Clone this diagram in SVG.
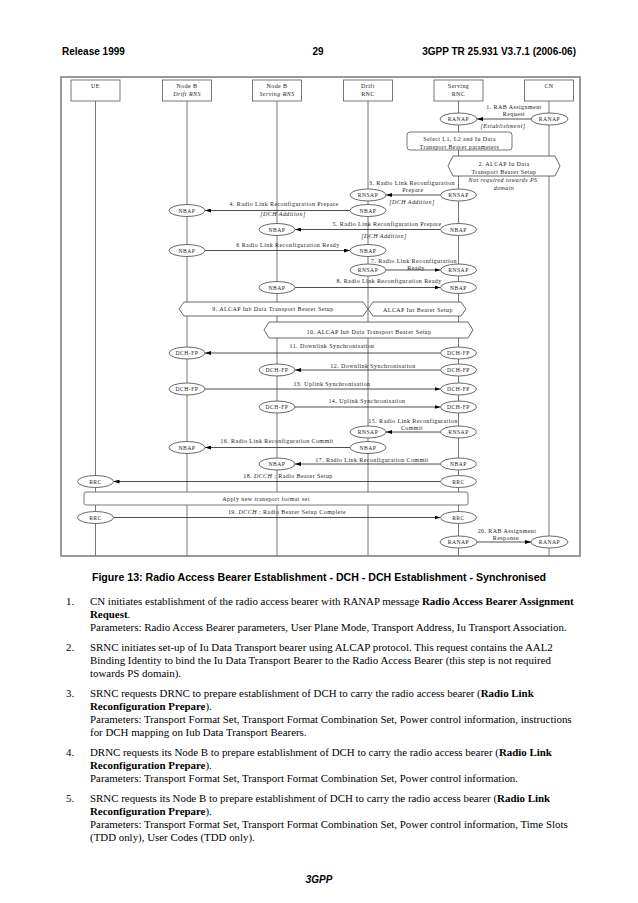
<svg xmlns="http://www.w3.org/2000/svg" width="638" height="903" viewBox="0 0 638 903">
<style>
.hdr{font-family:"Liberation Sans",Arial,sans-serif;font-weight:bold;font-size:10px;fill:#000}
.cap{font-family:"Liberation Sans",Arial,sans-serif;font-weight:bold;font-size:10.6px;fill:#000}
.body{font-family:"Liberation Serif","Times New Roman",serif;font-size:10.9px;fill:#000}
.b{font-weight:bold}
.lbl{font-family:"Liberation Serif","Times New Roman",serif;font-size:6px;letter-spacing:0.42px;fill:#222}
.mid{text-anchor:middle}
.it{font-style:italic}
.life{stroke:#777;stroke-width:1;fill:none}
.box{fill:#fff;stroke:#555;stroke-width:0.8}
.ell{fill:#fff;stroke:#444;stroke-width:0.8}
.el{font-family:"Liberation Serif","Times New Roman",serif;font-size:5.6px;letter-spacing:0.5px;fill:#222;text-anchor:middle}
.msg{stroke:#222;stroke-width:0.8;fill:none;marker-end:url(#ah)}
.hex{fill:#fff;stroke:#444;stroke-width:0.8}
</style>
<defs>
<marker id="ah" viewBox="0 0 6 4" refX="6" refY="2" markerWidth="6" markerHeight="4" markerUnits="userSpaceOnUse" orient="auto"><path d="M0,0 L6,2 L0,4z" fill="#000"/></marker>
</defs>
<rect width="638" height="903" fill="#fff"/>

<g id="header">
<text class="hdr" x="62" y="55">Release 1999</text>
<text class="hdr" x="318" y="55" text-anchor="middle">29</text>
<text class="hdr" x="576" y="55" text-anchor="end">3GPP TR 25.931 V3.7.1 (2006-06)</text>
</g>

<rect id="frame" x="61" y="77" width="519" height="479" fill="none" stroke="#999" stroke-width="2"/>

<g id="lifelines">
<line class="life" x1="95.5" y1="101" x2="95.5" y2="556"/>
<line class="life" x1="187" y1="101" x2="187" y2="556"/>
<line class="life" x1="277" y1="101" x2="277" y2="556"/>
<line class="life" x1="368" y1="101" x2="368" y2="556"/>
<line class="life" x1="458.5" y1="101" x2="458.5" y2="556"/>
<line class="life" x1="549" y1="101" x2="549" y2="556"/>
</g>

<g id="ue"><rect class="box" x="71" y="80" width="49" height="21"/><text class="lbl mid" x="95.5" y="88">UE</text></g>
<g id="nodeb-drift"><rect class="box" x="162.5" y="80" width="49" height="21"/><text class="lbl mid" x="187" y="88">Node B</text><text class="lbl mid it" x="187" y="96">Drift RNS</text></g>
<g id="nodeb-serving"><rect class="box" x="252.5" y="80" width="49" height="21"/><text class="lbl mid" x="277" y="88">Node B</text><text class="lbl mid it" x="277" y="96">Serving RNS</text></g>
<g id="drnc"><rect class="box" x="343.5" y="80" width="49" height="21"/><text class="lbl mid" x="368" y="88">Drift</text><text class="lbl mid" x="368" y="96">RNC</text></g>
<g id="srnc"><rect class="box" x="434" y="80" width="49" height="21"/><text class="lbl mid" x="458.5" y="88">Serving</text><text class="lbl mid" x="458.5" y="96">RNC</text></g>
<g id="cn"><rect class="box" x="524.5" y="80" width="49" height="21"/><text class="lbl mid" x="549" y="88">CN</text></g>

<g id="select-box"><rect class="box" x="407" y="132" width="105" height="18" rx="3"/><text class="lbl mid" x="459.5" y="141">Select L1, L2 and Iu Data</text><text class="lbl mid" x="459.5" y="148.5">Transport Bearer parameters</text></g>

<g id="alcap-iu"><polygon class="hex" points="448,166 453,156 555,156 560,166 555,176 453,176"/><text class="lbl mid" x="504" y="166">2. ALCAP Iu Data</text><text class="lbl mid" x="504" y="174">Transport Bearer Setup</text></g>

<g id="alcap-iub9"><polygon class="hex" points="179,309 184,302 363,302 368,309 363,316 184,316"/><text class="lbl mid" x="273" y="311">9. ALCAP Iub Data Transport Bearer Setup</text></g>
<g id="alcap-iur"><polygon class="hex" points="368,309 373,302 461,302 466,309 461,316 373,316"/><text class="lbl mid" x="418" y="311.5">ALCAP Iur Bearer Setup</text></g>
<g id="alcap-iub10"><polygon class="hex" points="264,330 269,322 468,322 473,330 468,338 269,338"/><text class="lbl mid" x="369" y="334">10. ALCAP Iub Data Transport Bearer Setup</text></g>

<g id="apply-box"><rect class="box" x="84" y="492" width="384" height="13" rx="2"/><text class="lbl mid" x="266" y="500.5">Apply new transport format set</text></g>

<g id="connectors">
<line class="msg" x1="531" y1="119" x2="477" y2="119"/>
<line class="msg" x1="440.5" y1="195" x2="386" y2="195"/>
<line class="msg" x1="350" y1="210.5" x2="205" y2="210.5"/>
<line class="msg" x1="440.5" y1="229.5" x2="295" y2="229.5"/>
<line class="msg" x1="205" y1="250.5" x2="350" y2="250.5"/>
<line class="msg" x1="386" y1="270" x2="440.5" y2="270"/>
<line class="msg" x1="295" y1="287.5" x2="440.5" y2="287.5"/>
<line class="msg" x1="440.5" y1="353" x2="205" y2="353"/>
<line class="msg" x1="440.5" y1="370" x2="295" y2="370"/>
<line class="msg" x1="205" y1="389" x2="440.5" y2="389"/>
<line class="msg" x1="295" y1="407" x2="440.5" y2="407"/>
<line class="msg" x1="440.5" y1="432" x2="386" y2="432"/>
<line class="msg" x1="350" y1="447.5" x2="205" y2="447.5"/>
<line class="msg" x1="440.5" y1="464" x2="295" y2="464"/>
<line class="msg" x1="440.5" y1="481.5" x2="113.5" y2="481.5"/>
<line class="msg" x1="113.5" y1="517.5" x2="440.5" y2="517.5"/>
<line class="msg" x1="477" y1="542" x2="531" y2="542"/>
</g>

<g id="endpoints">
<g id="ranap-s1"><ellipse class="ell" cx="458.5" cy="119" rx="18.5" ry="6"/><text class="el" x="458.5" y="121">RANAP</text></g>
<g id="ranap-cn1"><ellipse class="ell" cx="549.5" cy="119" rx="18.5" ry="6"/><text class="el" x="549.5" y="121">RANAP</text></g>
<g id="rnsap-d3"><ellipse class="ell" cx="368" cy="195" rx="18" ry="6"/><text class="el" x="368" y="197">RNSAP</text></g>
<g id="rnsap-s3"><ellipse class="ell" cx="458.5" cy="195" rx="18" ry="6"/><text class="el" x="458.5" y="197">RNSAP</text></g>
<g id="nbap-nd4"><ellipse class="ell" cx="187" cy="210.5" rx="18" ry="6"/><text class="el" x="187" y="212.5">NBAP</text></g>
<g id="nbap-d4"><ellipse class="ell" cx="368" cy="210.5" rx="18" ry="6"/><text class="el" x="368" y="212.5">NBAP</text></g>
<g id="nbap-ns5"><ellipse class="ell" cx="277" cy="229.5" rx="18" ry="6"/><text class="el" x="277" y="231.5">NBAP</text></g>
<g id="nbap-s5"><ellipse class="ell" cx="458.5" cy="229.5" rx="18" ry="6"/><text class="el" x="458.5" y="231.5">NBAP</text></g>
<g id="nbap-nd6"><ellipse class="ell" cx="187" cy="250.5" rx="18" ry="6"/><text class="el" x="187" y="252.5">NBAP</text></g>
<g id="nbap-d6"><ellipse class="ell" cx="368" cy="250.5" rx="18" ry="6"/><text class="el" x="368" y="252.5">NBAP</text></g>
<g id="rnsap-d7"><ellipse class="ell" cx="368" cy="270" rx="18" ry="6"/><text class="el" x="368" y="272">RNSAP</text></g>
<g id="rnsap-s7"><ellipse class="ell" cx="458.5" cy="270" rx="18" ry="6"/><text class="el" x="458.5" y="272">RNSAP</text></g>
<g id="nbap-ns8"><ellipse class="ell" cx="277" cy="287.5" rx="18" ry="6"/><text class="el" x="277" y="289.5">NBAP</text></g>
<g id="nbap-s8"><ellipse class="ell" cx="458.5" cy="287.5" rx="18" ry="6"/><text class="el" x="458.5" y="289.5">NBAP</text></g>
<g id="dch-nd11"><ellipse class="ell" cx="187" cy="353" rx="18" ry="6"/><text class="el" x="187" y="355">DCH-FP</text></g>
<g id="dch-s11"><ellipse class="ell" cx="458.5" cy="353" rx="18" ry="6"/><text class="el" x="458.5" y="355">DCH-FP</text></g>
<g id="dch-ns12"><ellipse class="ell" cx="277" cy="370" rx="18" ry="6"/><text class="el" x="277" y="372">DCH-FP</text></g>
<g id="dch-s12"><ellipse class="ell" cx="458.5" cy="370" rx="18" ry="6"/><text class="el" x="458.5" y="372">DCH-FP</text></g>
<g id="dch-nd13"><ellipse class="ell" cx="187" cy="389" rx="18" ry="6"/><text class="el" x="187" y="391">DCH-FP</text></g>
<g id="dch-s13"><ellipse class="ell" cx="458.5" cy="389" rx="18" ry="6"/><text class="el" x="458.5" y="391">DCH-FP</text></g>
<g id="dch-ns14"><ellipse class="ell" cx="277" cy="407" rx="18" ry="6"/><text class="el" x="277" y="409">DCH-FP</text></g>
<g id="dch-s14"><ellipse class="ell" cx="458.5" cy="407" rx="18" ry="6"/><text class="el" x="458.5" y="409">DCH-FP</text></g>
<g id="rnsap-d15"><ellipse class="ell" cx="368" cy="432" rx="18" ry="6"/><text class="el" x="368" y="434">RNSAP</text></g>
<g id="rnsap-s15"><ellipse class="ell" cx="458.5" cy="432" rx="18" ry="6"/><text class="el" x="458.5" y="434">RNSAP</text></g>
<g id="nbap-nd16"><ellipse class="ell" cx="187" cy="447.5" rx="18" ry="6"/><text class="el" x="187" y="449.5">NBAP</text></g>
<g id="nbap-d16"><ellipse class="ell" cx="368" cy="447.5" rx="18" ry="6"/><text class="el" x="368" y="449.5">NBAP</text></g>
<g id="nbap-ns17"><ellipse class="ell" cx="277" cy="464" rx="18" ry="6"/><text class="el" x="277" y="466">NBAP</text></g>
<g id="nbap-s17"><ellipse class="ell" cx="458.5" cy="464" rx="18" ry="6"/><text class="el" x="458.5" y="466">NBAP</text></g>
<g id="rrc-ue18"><ellipse class="ell" cx="95.5" cy="481.5" rx="18" ry="6"/><text class="el" x="95.5" y="483.5">RRC</text></g>
<g id="rrc-s18"><ellipse class="ell" cx="458.5" cy="481.5" rx="18" ry="6"/><text class="el" x="458.5" y="483.5">RRC</text></g>
<g id="rrc-ue19"><ellipse class="ell" cx="95.5" cy="517.5" rx="18" ry="6"/><text class="el" x="95.5" y="519.5">RRC</text></g>
<g id="rrc-s19"><ellipse class="ell" cx="458.5" cy="517.5" rx="18" ry="6"/><text class="el" x="458.5" y="519.5">RRC</text></g>
<g id="ranap-s20"><ellipse class="ell" cx="458.5" cy="542" rx="18.5" ry="6"/><text class="el" x="458.5" y="544">RANAP</text></g>
<g id="ranap-cn20"><ellipse class="ell" cx="549.5" cy="542" rx="18.5" ry="6"/><text class="el" x="549.5" y="544">RANAP</text></g>
</g>

<g id="labels">
<text class="lbl mid" x="514" y="109">1. RAB Assignment</text>
<text class="lbl mid" x="514" y="116">Request</text>
<text class="lbl mid it" x="503" y="128">[Establishment]</text>
<text class="lbl mid it" x="503" y="182">Not required towards PS</text>
<text class="lbl mid it" x="504" y="190">domain</text>
<text class="lbl mid" x="412" y="185">3. Radio Link Reconfiguration</text>
<text class="lbl mid" x="413" y="192">Prepare</text>
<text class="lbl mid it" x="412" y="204">[DCH Addition]</text>
<text class="lbl mid" x="284" y="206">4. Radio Link Reconfiguration Prepare</text>
<text class="lbl mid it" x="283" y="216">[DCH Addition]</text>
<text class="lbl mid" x="387" y="226">5. Radio Link Reconfiguration Prepare</text>
<text class="lbl mid it" x="384" y="238">[DCH Addition]</text>
<text class="lbl mid" x="288" y="247">6 Radio Link Reconfiguration Ready</text>
<text class="lbl mid" x="414" y="263">7. Radio Link Reconfiguration</text>
<text class="lbl mid" x="416" y="270">Ready</text>
<text class="lbl mid" x="389" y="283">8. Radio Link Reconfiguration Ready</text>
<text class="lbl mid" x="332" y="348">11. Downlink Synchronisation</text>
<text class="lbl mid" x="373" y="368">12. Downlink Synchronisation</text>
<text class="lbl mid" x="332" y="386">13. Uplink Synchronisation</text>
<text class="lbl mid" x="367" y="403">14. Uplink Synchronisation</text>
<text class="lbl mid" x="413" y="423">15. Radio Link Reconfiguration</text>
<text class="lbl mid" x="412" y="430">Commit</text>
<text class="lbl mid" x="277" y="443">16. Radio Link Reconfiguration Commit</text>
<text class="lbl mid" x="372" y="462">17. Radio Link Reconfiguration Commit</text>
<text class="lbl mid" x="288" y="478">18. <tspan class="it">DCCH</tspan> : Radio Bearer Setup</text>
<text class="lbl mid" x="287" y="514">19. <tspan class="it">DCCH</tspan> : Radio Bearer Setup Complete</text>
<text class="lbl mid" x="507" y="533">20. RAB Assignment</text>
<text class="lbl mid" x="506" y="540">Response</text>
</g>

<text class="cap" x="319" y="581" text-anchor="middle">Figure 13: Radio Access Bearer Establishment - DCH - DCH Establishment - Synchronised</text>

<g id="body">
<text class="body" x="66" y="605">1.</text>
<text class="body" x="90" y="605">CN initiates establishment of the radio access bearer with RANAP message <tspan class="b">Radio Access Bearer Assignment</tspan></text>
<text class="body" x="90" y="618"><tspan class="b">Request</tspan>.</text>
<text class="body" x="90" y="631">Parameters: Radio Access Bearer parameters, User Plane Mode, Transport Address, Iu Transport Association.</text>
<text class="body" x="66" y="651">2.</text>
<text class="body" x="90" y="651">SRNC initiates set-up of Iu Data Transport bearer using ALCAP protocol. This request contains the AAL2</text>
<text class="body" x="90" y="664">Binding Identity to bind the Iu Data Transport Bearer to the Radio Access Bearer (this step is not required</text>
<text class="body" x="90" y="677">towards PS domain).</text>
<text class="body" x="66" y="697">3.</text>
<text class="body" x="90" y="697">SRNC requests DRNC to prepare establishment of DCH to carry the radio access bearer (<tspan class="b">Radio Link</tspan></text>
<text class="body" x="90" y="710"><tspan class="b">Reconfiguration Prepare</tspan>).</text>
<text class="body" x="90" y="723">Parameters: Transport Format Set, Transport Format Combination Set, Power control information, instructions</text>
<text class="body" x="90" y="736">for DCH mapping on Iub Data Transport Bearers.</text>
<text class="body" x="66" y="756">4.</text>
<text class="body" x="90" y="756">DRNC requests its Node B to prepare establishment of DCH to carry the radio access bearer (<tspan class="b">Radio Link</tspan></text>
<text class="body" x="90" y="769"><tspan class="b">Reconfiguration Prepare</tspan>).</text>
<text class="body" x="90" y="782">Parameters: Transport Format Set, Transport Format Combination Set, Power control information.</text>
<text class="body" x="66" y="802">5.</text>
<text class="body" x="90" y="802">SRNC requests its Node B to prepare establishment of DCH to carry the radio access bearer (<tspan class="b">Radio Link</tspan></text>
<text class="body" x="90" y="815"><tspan class="b">Reconfiguration Prepare</tspan>).</text>
<text class="body" x="90" y="828">Parameters: Transport Format Set, Transport Format Combination Set, Power control information, Time Slots</text>
<text class="body" x="90" y="841">(TDD only), User Codes (TDD only).</text>
</g>

<text class="hdr" x="319" y="883" text-anchor="middle" font-style="italic">3GPP</text>
</svg>
